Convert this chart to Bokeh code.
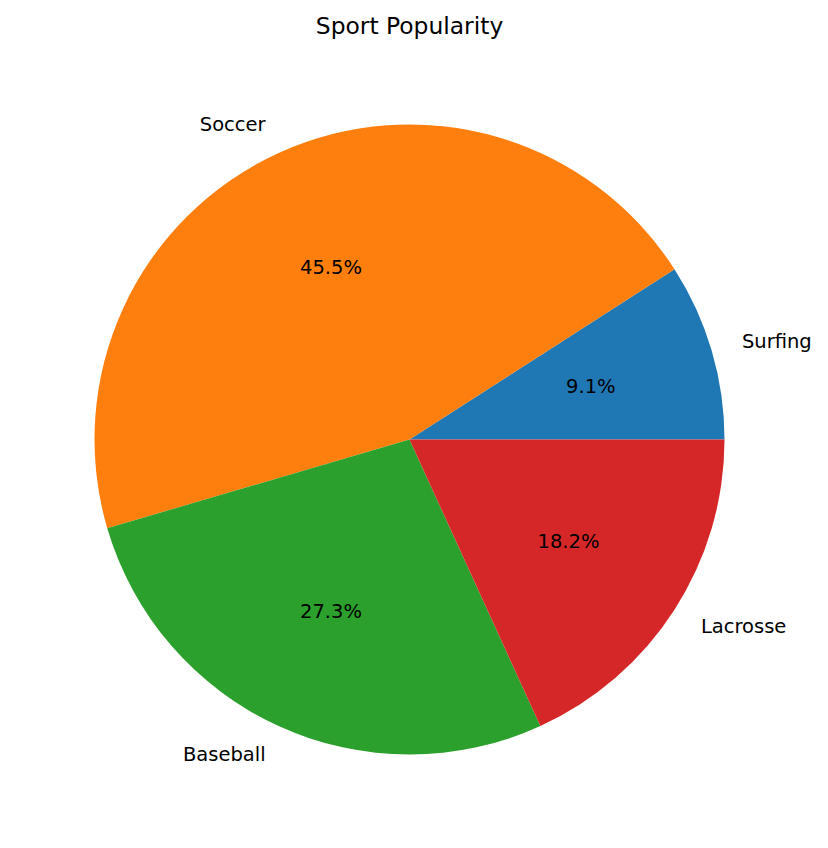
import numpy as np
from bokeh.plotting import figure
from bokeh.models import Range1d, ColumnDataSource
from bokeh.core.properties import value
from bokeh.embed import file_html
from bokeh.resources import INLINE

labels = ["Surfing", "Soccer", "Baseball", "Lacrosse"]
sizes = [1, 5, 3, 2]
colors = ["#1f77b4", "#ff7f0e", "#2ca02c", "#d62728"]
title = "Sport Popularity"

W, H = 812, 832
cx, cy, R = 409, H - 439, 315

vals = np.array(sizes, dtype=float)
frac = vals / vals.sum()
ends = np.cumsum(frac) * 2 * np.pi
starts = ends - frac * 2 * np.pi
mids = (starts + ends) / 2

src = ColumnDataSource(dict(start=starts, end=ends, color=colors))

p = figure(width=W, height=H, output_backend="svg", toolbar_location=None,
           x_range=Range1d(0, W), y_range=Range1d(0, H), min_border=0)
p.axis.visible = False
p.grid.visible = False
p.outline_line_color = None

p.wedge(x=cx, y=cy, radius=R, start_angle="start", end_angle="end",
        fill_color="color", line_color=None, source=src)

font = value("DejaVu Sans")
lx = cx + 1.1 * R * np.cos(mids)
ly = cy + 1.1 * R * np.sin(mids)
align = ["left" if np.cos(m) > 0 else "right" for m in mids]
lsrc = ColumnDataSource(dict(x=lx, y=ly, t=labels, a=align))
p.text(x="x", y="y", text="t", text_align="a", text_baseline="middle",
       text_font=font, text_font_size="19.5px", text_color="black", source=lsrc)

px = cx + 0.6 * R * np.cos(mids)
py = cy + 0.6 * R * np.sin(mids)
pct = ["%.1f%%" % (f * 100) for f in frac]
psrc = ColumnDataSource(dict(x=px, y=py, t=pct))
p.text(x="x", y="y", text="t", text_align="center", text_baseline="middle",
       text_font=font, text_font_size="19.5px", text_color="black", source=psrc)

p.text(x=[409], y=[H - 25], text=[title], text_align="center",
       text_baseline="middle", text_font=font, text_font_size="23.4px",
       text_color="black")

open("out.html", "w").write(file_html(p, INLINE))
